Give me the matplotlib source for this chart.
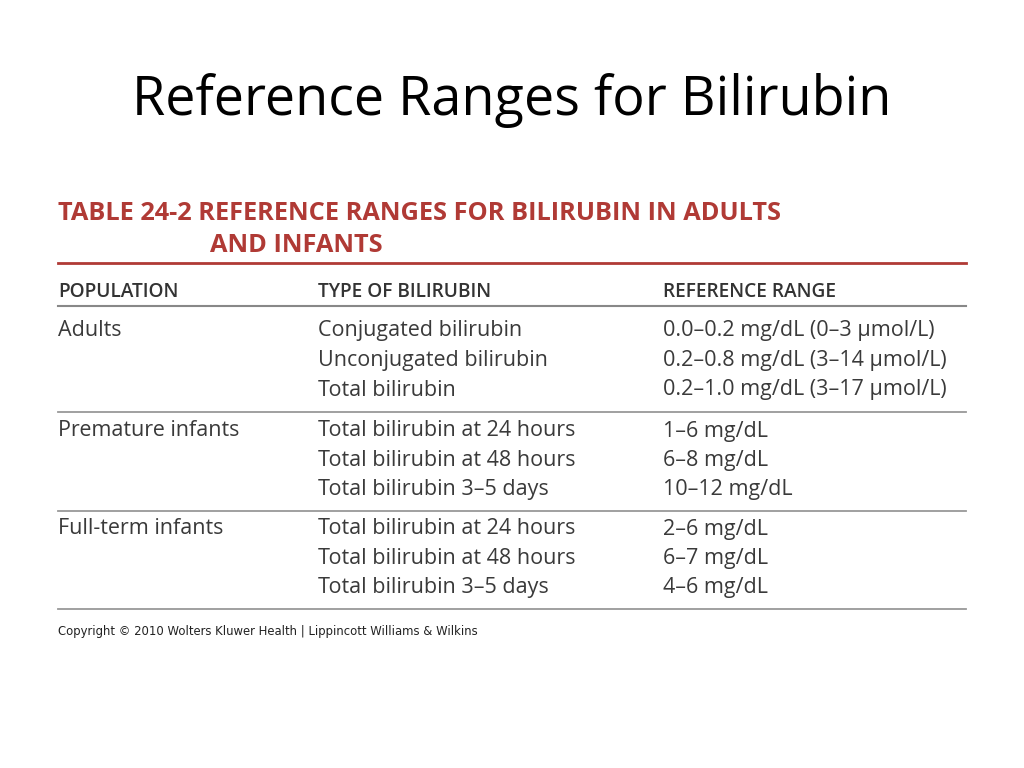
import matplotlib
matplotlib.use("Agg")
import matplotlib.pyplot as plt
from matplotlib.lines import Line2D

title = "Reference Ranges for Bilirubin"
table_title = ["TABLE 24-2 REFERENCE RANGES FOR BILIRUBIN IN ADULTS", "AND INFANTS"]
headers = ["POPULATION", "TYPE OF BILIRUBIN", "REFERENCE RANGE"]
populations = ["Adults", "Premature infants", "Full-term infants"]
types = [
    ["Conjugated bilirubin", "Unconjugated bilirubin", "Total bilirubin"],
    ["Total bilirubin at 24 hours", "Total bilirubin at 48 hours", "Total bilirubin 3–5 days"],
    ["Total bilirubin at 24 hours", "Total bilirubin at 48 hours", "Total bilirubin 3–5 days"],
]
ranges = [
    ["0.0–0.2 mg/dL (0–3 μmol/L)", "0.2–0.8 mg/dL (3–14 μmol/L)", "0.2–1.0 mg/dL (3–17 μmol/L)"],
    ["1–6 mg/dL", "6–8 mg/dL", "10–12 mg/dL"],
    ["2–6 mg/dL", "6–7 mg/dL", "4–6 mg/dL"],
]
copyright_text = "Copyright © 2010 Wolters Kluwer Health | Lippincott Williams & Wilkins"

W, H = 1024, 768
fig = plt.figure(figsize=(10.24, 7.68), dpi=100)
fig.patch.set_facecolor("white")

def T(x, y, s, **kw):
    fig.text(x / W, 1 - y / H, s, va="center", **kw)

def L(y, color, lw):
    fig.add_artist(Line2D([58 / W, 966 / W], [1 - y / H, 1 - y / H], color=color, lw=lw))

T(512, 100, title, ha="center", fontsize=38.8, family="Open Sans", color="black")
red = "#b03a35"
T(58, 214, table_title[0], ha="left", fontsize=18.3, family="Open Sans", weight="bold", color=red)
T(210, 245, table_title[1], ha="left", fontsize=18.3, family="Open Sans", weight="bold", color=red)
L(263, red, 2.0)

cols = [58, 318, 663]
for x, h in zip(cols, headers):
    T(x, 292, h, ha="left", fontsize=13.8, family="Open Sans", weight="semibold", color="#333333")
L(306, "#888888", 1.5)

starts = [331, 431, 529]
seps = [412, 511, 609]
for i, p in enumerate(populations):
    y0 = starts[i]
    T(cols[0], y0, p, ha="left", fontsize=15.5, family="Open Sans", color="#3a3a3a")
    for j in range(3):
        y = y0 + j * 29.5
        T(cols[1], y, types[i][j], ha="left", fontsize=15.5, family="Open Sans", color="#3a3a3a")
        T(cols[2], y, ranges[i][j], ha="left", fontsize=15.5, family="Open Sans", color="#3a3a3a")
    L(seps[i], "#999999", 1.3)

T(58, 632, copyright_text, ha="left", fontsize=8.4, family="DejaVu Sans", color="#222222")

fig.savefig("out.png", dpi=100)
